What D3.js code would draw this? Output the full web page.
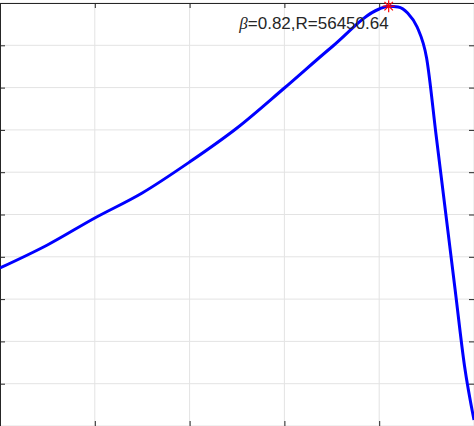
<!DOCTYPE html>
<html>
<head>
<meta charset="utf-8">
<script src="https://cdn.jsdelivr.net/npm/d3@7"></script>
<style>
  body { margin: 0; background: #fff; }
  svg { display: block; }
</style>
</head>
<body>
<div id="chart"></div>
<script>
// beta values and resulting R
const betaValues = [0, 0.1, 0.2, 0.3, 0.4, 0.5, 0.6, 0.7, 0.8, 0.82, 0.84, 0.86, 0.88, 0.9, 0.92, 0.94, 0.96, 0.98, 1.0];
const rValues = [44071, 45158, 46435, 47617, 49083, 50690, 52581, 54520, 56316, 56450.64, 56411, 56126, 55465, 53999, 50359, 46718, 43078, 39437, 36884];
const xTicks = [0, 0.2, 0.4, 0.6, 0.8, 1.0];
const yTicks = [36600, 38600, 40600, 42600, 44600, 46600, 48600, 50600, 52600, 54600, 56600];
const peakBeta = 0.82, peakR = 56450.64;

const width = 474, height = 426;
const margin = {top: 3, right: 0, bottom: 0, left: 0};
const innerW = width - margin.left - margin.right,
      innerH = height - margin.top - margin.bottom;

const svg = d3.select("#chart").append("svg")
    .attr("width", width)
    .attr("height", height);
const g = svg.append("g").attr("transform", `translate(${margin.left},${margin.top})`);

const x = d3.scaleLinear().domain([0, 1]).range([0, innerW]);
const y = d3.scaleLinear().domain([36600, 56600]).range([innerH, 0]);

// grid
g.selectAll(".vgrid").data(xTicks).enter().append("line")
    .attr("x1", d => x(d)).attr("x2", d => x(d))
    .attr("y1", 0).attr("y2", innerH)
    .attr("stroke", "#e3e3e3").attr("stroke-width", 1);
g.selectAll(".hgrid").data(yTicks).enter().append("line")
    .attr("x1", 0).attr("x2", innerW)
    .attr("y1", d => y(d)).attr("y2", d => y(d))
    .attr("stroke", "#e3e3e3").attr("stroke-width", 1);

// axes with inward ticks, no labels
const tick = 5;
g.append("g").call(d3.axisTop(x).tickValues(xTicks).tickSize(-tick).tickFormat(""))
    .call(s => s.selectAll("path,line").attr("stroke", "#262626"));
g.append("g").attr("transform", `translate(0,${innerH})`)
    .call(d3.axisBottom(x).tickValues(xTicks).tickSize(-tick).tickFormat(""))
    .call(s => s.selectAll("path,line").attr("stroke", "#262626"));
g.append("g").call(d3.axisLeft(y).tickValues(yTicks).tickSize(-tick).tickFormat(""))
    .call(s => s.selectAll("path,line").attr("stroke", "#262626"));
g.append("g").attr("transform", `translate(${innerW},0)`)
    .call(d3.axisRight(y).tickValues(yTicks).tickSize(-tick).tickFormat(""))
    .call(s => s.selectAll("path,line").attr("stroke", "#262626"));

// curve
const line = d3.line().x(d => x(d[0])).y(d => y(d[1])).curve(d3.curveMonotoneX);
g.append("path")
    .datum(betaValues.map((b, i) => [b, rValues[i]]))
    .attr("d", line)
    .attr("fill", "none")
    .attr("stroke", "#0000ff")
    .attr("stroke-width", 3);

// peak marker
const px = x(peakBeta), py = y(peakR);
[0, 45, 90, 135].forEach(a => {
  g.append("line")
    .attr("x1", -6).attr("x2", 6).attr("y1", 0).attr("y2", 0)
    .attr("transform", `translate(${px},${py}) rotate(${a})`)
    .attr("stroke", "#ff0000").attr("stroke-width", 1.2);
});

const label = g.append("text")
    .attr("x", px).attr("y", py + 23)
    .attr("text-anchor", "end")
    .attr("font-family", "Liberation Sans, Arial, sans-serif")
    .attr("font-size", 17)
    .attr("fill", "#262626");
label.append("tspan").attr("font-style", "italic").attr("font-family", "Liberation Serif, serif").text("β");
label.append("tspan").text("=" + peakBeta.toFixed(2) + ",R=" + peakR.toFixed(2));
</script>
</body>
</html>
